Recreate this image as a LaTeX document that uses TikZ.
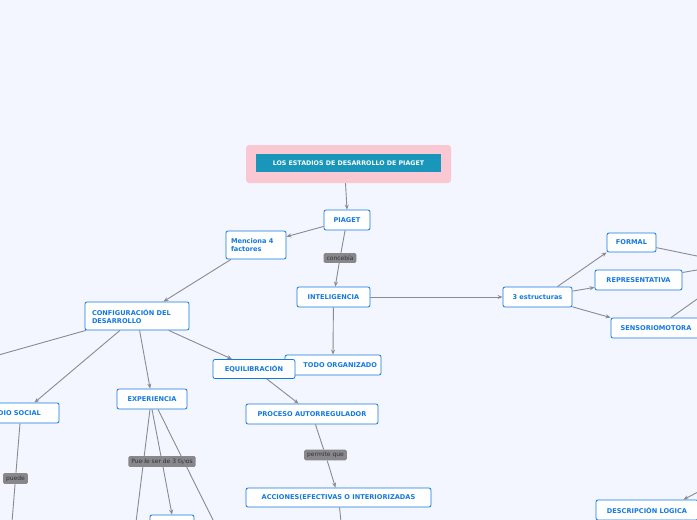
\documentclass[tikz,border=0pt]{standalone}
\usepackage{fontspec}
\setmainfont{DejaVu Sans}
\usetikzlibrary{arrows.meta,calc}
\begin{document}
\begin{tikzpicture}[x=1pt,y=-1pt,
  box/.style={draw=nodeblue,line width=0.8pt,rounded corners=2pt,fill=white,text=nodeblue,font=\bfseries\fontsize{6.6}{8}\selectfont,inner xsep=0pt,inner ysep=0pt,align=left},
  lab/.style={fill=labgray,rounded corners=1.5pt,text=labtext,font=\fontsize{6}{7}\selectfont,inner xsep=3pt,inner ysep=2.5pt},
  con/.style={draw=linegray,line width=0.9pt},
  arr/.style={con,-{Stealth[length=5pt,width=4pt]}}]
\definecolor{nodeblue}{RGB}{20,120,225}
\definecolor{linegray}{RGB}{138,138,145}
\definecolor{labgray}{RGB}{135,135,140}
\definecolor{labtext}{RGB}{50,50,55}
\definecolor{bg}{RGB}{243,246,255}
\useasboundingbox (0,0) rectangle (697,520);
\fill[bg] (0,0) rectangle (697,520);
\clip (0,0) rectangle (697,520);
% title
\node[fill={rgb,255:red,250;green,200;blue,210},rounded corners=3pt,minimum width=205pt,minimum height=38pt] (tbg) at (348.5,164) {};
\node[fill={rgb,255:red,25;green,150;blue,185},text=white,font=\bfseries\fontsize{6.3}{7}\selectfont,minimum width=185pt,minimum height=18pt,inner sep=0pt] (title) at (348.5,163) {LOS ESTADIOS DE DESARROLLO DE PIAGET};
\node[box,minimum width=46pt,minimum height=20pt,align=center] (piaget) at (347,220) {PIAGET};
\node[box,minimum width=60pt,minimum height=28pt,text width=50pt] (menc) at (256,245) {Menciona 4\\factores};
\node[box,minimum width=73pt,minimum height=20pt,align=center] (intel) at (333.5,297) {INTELIGENCIA};
\node[box,minimum width=69pt,minimum height=20pt,align=center] (est) at (537.5,297) {3 estructuras};
\node[box,minimum width=49pt,minimum height=19pt,align=center] (formal) at (631.5,242.5) {FORMAL};
\node[box,minimum width=87pt,minimum height=20pt,align=center] (repr) at (638.5,280) {REPRESENTATIVA};
\node[box,minimum width=90pt,minimum height=20pt,align=center] (senso) at (656,328) {SENSORIOMOTORA};
\node[box,minimum width=104pt,minimum height=28pt,text width=90pt] (config) at (137,316) {CONFIGURACIÓN DEL\\DESARROLLO};
\node[box,minimum width=96pt,minimum height=20pt,align=right,text width=88pt] (todo) at (333,365) {TODO ORGANIZADO};
\node[box,minimum width=82pt,minimum height=19pt,align=center] (equil) at (254,369) {EQUILIBRACIÓN};
\node[box,minimum width=70pt,minimum height=20pt,align=center] (exper) at (152,399) {EXPERIENCIA};
\node[box,minimum width=90pt,minimum height=20pt,align=center] (medio) at (14,413) {MEDIO SOCIAL};
\node[box,minimum width=132pt,minimum height=20pt,align=center] (proc) at (312,414) {PROCESO AUTORREGULADOR};
\node[box,minimum width=185pt,minimum height=19pt,align=center] (acc) at (338.5,497.5) {ACCIONES(EFECTIVAS O INTERIORIZADAS};
\node[box,minimum width=44pt,minimum height=20pt] (small) at (172,525) {};
\node[box,minimum width=102pt,minimum height=20pt,align=center] (desc) at (647,510) {DESCRIPCIÓN LOGICA};
% labels
\node[lab] (conc) at (340,258) {concebía};
\node[lab] (perm) at (325.5,455) {permite que};
\node[lab] (tipos) at (162,461.5) {Puede ser de 3 tipos};
\node[lab] (puede) at (15.5,478.5) {puede};
% coordinates off-canvas
\coordinate (c1) at (697,256); \coordinate (c2) at (697,270);
\coordinate (c3) at (700,297); \coordinate (c4) at (-5,356);
\coordinate (c5) at (341,522); \coordinate (c6) at (12,522);
\coordinate (c7) at (136,522); \coordinate (c8) at (214,522);
\coordinate (c9) at (700,491);
% edges
\draw[arr] ($(tbg.south)+(-3,0)$) -- (piaget.north);
\draw[arr] (piaget) -- (menc);
\draw[con] (piaget) -- (conc);
\draw[arr] (conc) -- (intel);
\draw[arr] ($(menc.south)+(-25,0)$) -- ($(config.north east)+(-26,0)$);
\draw[arr] (intel) -- (est);
\draw[arr] (intel) -- (todo.north);
\draw[arr] ($(est.north east)+(-15,0)$) -- (formal.south west);
\draw[arr] (est) -- (repr);
\draw[arr] (est) -- (senso.north west);
\draw[con] (formal) -- (c1);
\draw[con] (repr) -- (c2);
\draw[con] ($(senso.north)+(15,0)$) -- (c3);
\draw[con] (config) -- (c4);
\draw[arr] (config) -- ($(medio.north east)+(-25,0)$);
\draw[arr] (config) -- (exper);
\draw[arr] (config) -- ($(equil.north)+(-22,0)$);
\draw[arr] (equil) -- (proc);
\draw[con] (proc) -- (perm);
\draw[arr] (perm) -- (acc);
\draw[con] (acc) -- (c5);
\draw[con] ($(medio.south)+(6,0)$) -- (puede);
\draw[con] (puede) -- (c6);
\draw[con] ($(exper.south)+(-2,0)$) -- (c7);
\draw[con] (exper.south) -- (tipos);
\draw[arr] (tipos) -- (small.north);
\draw[con] ($(exper.south)+(6,0)$) -- (c8);
\draw[arr] (c9) -- ($(desc.north east)+(-15,0)$);
\end{tikzpicture}
\end{document}
